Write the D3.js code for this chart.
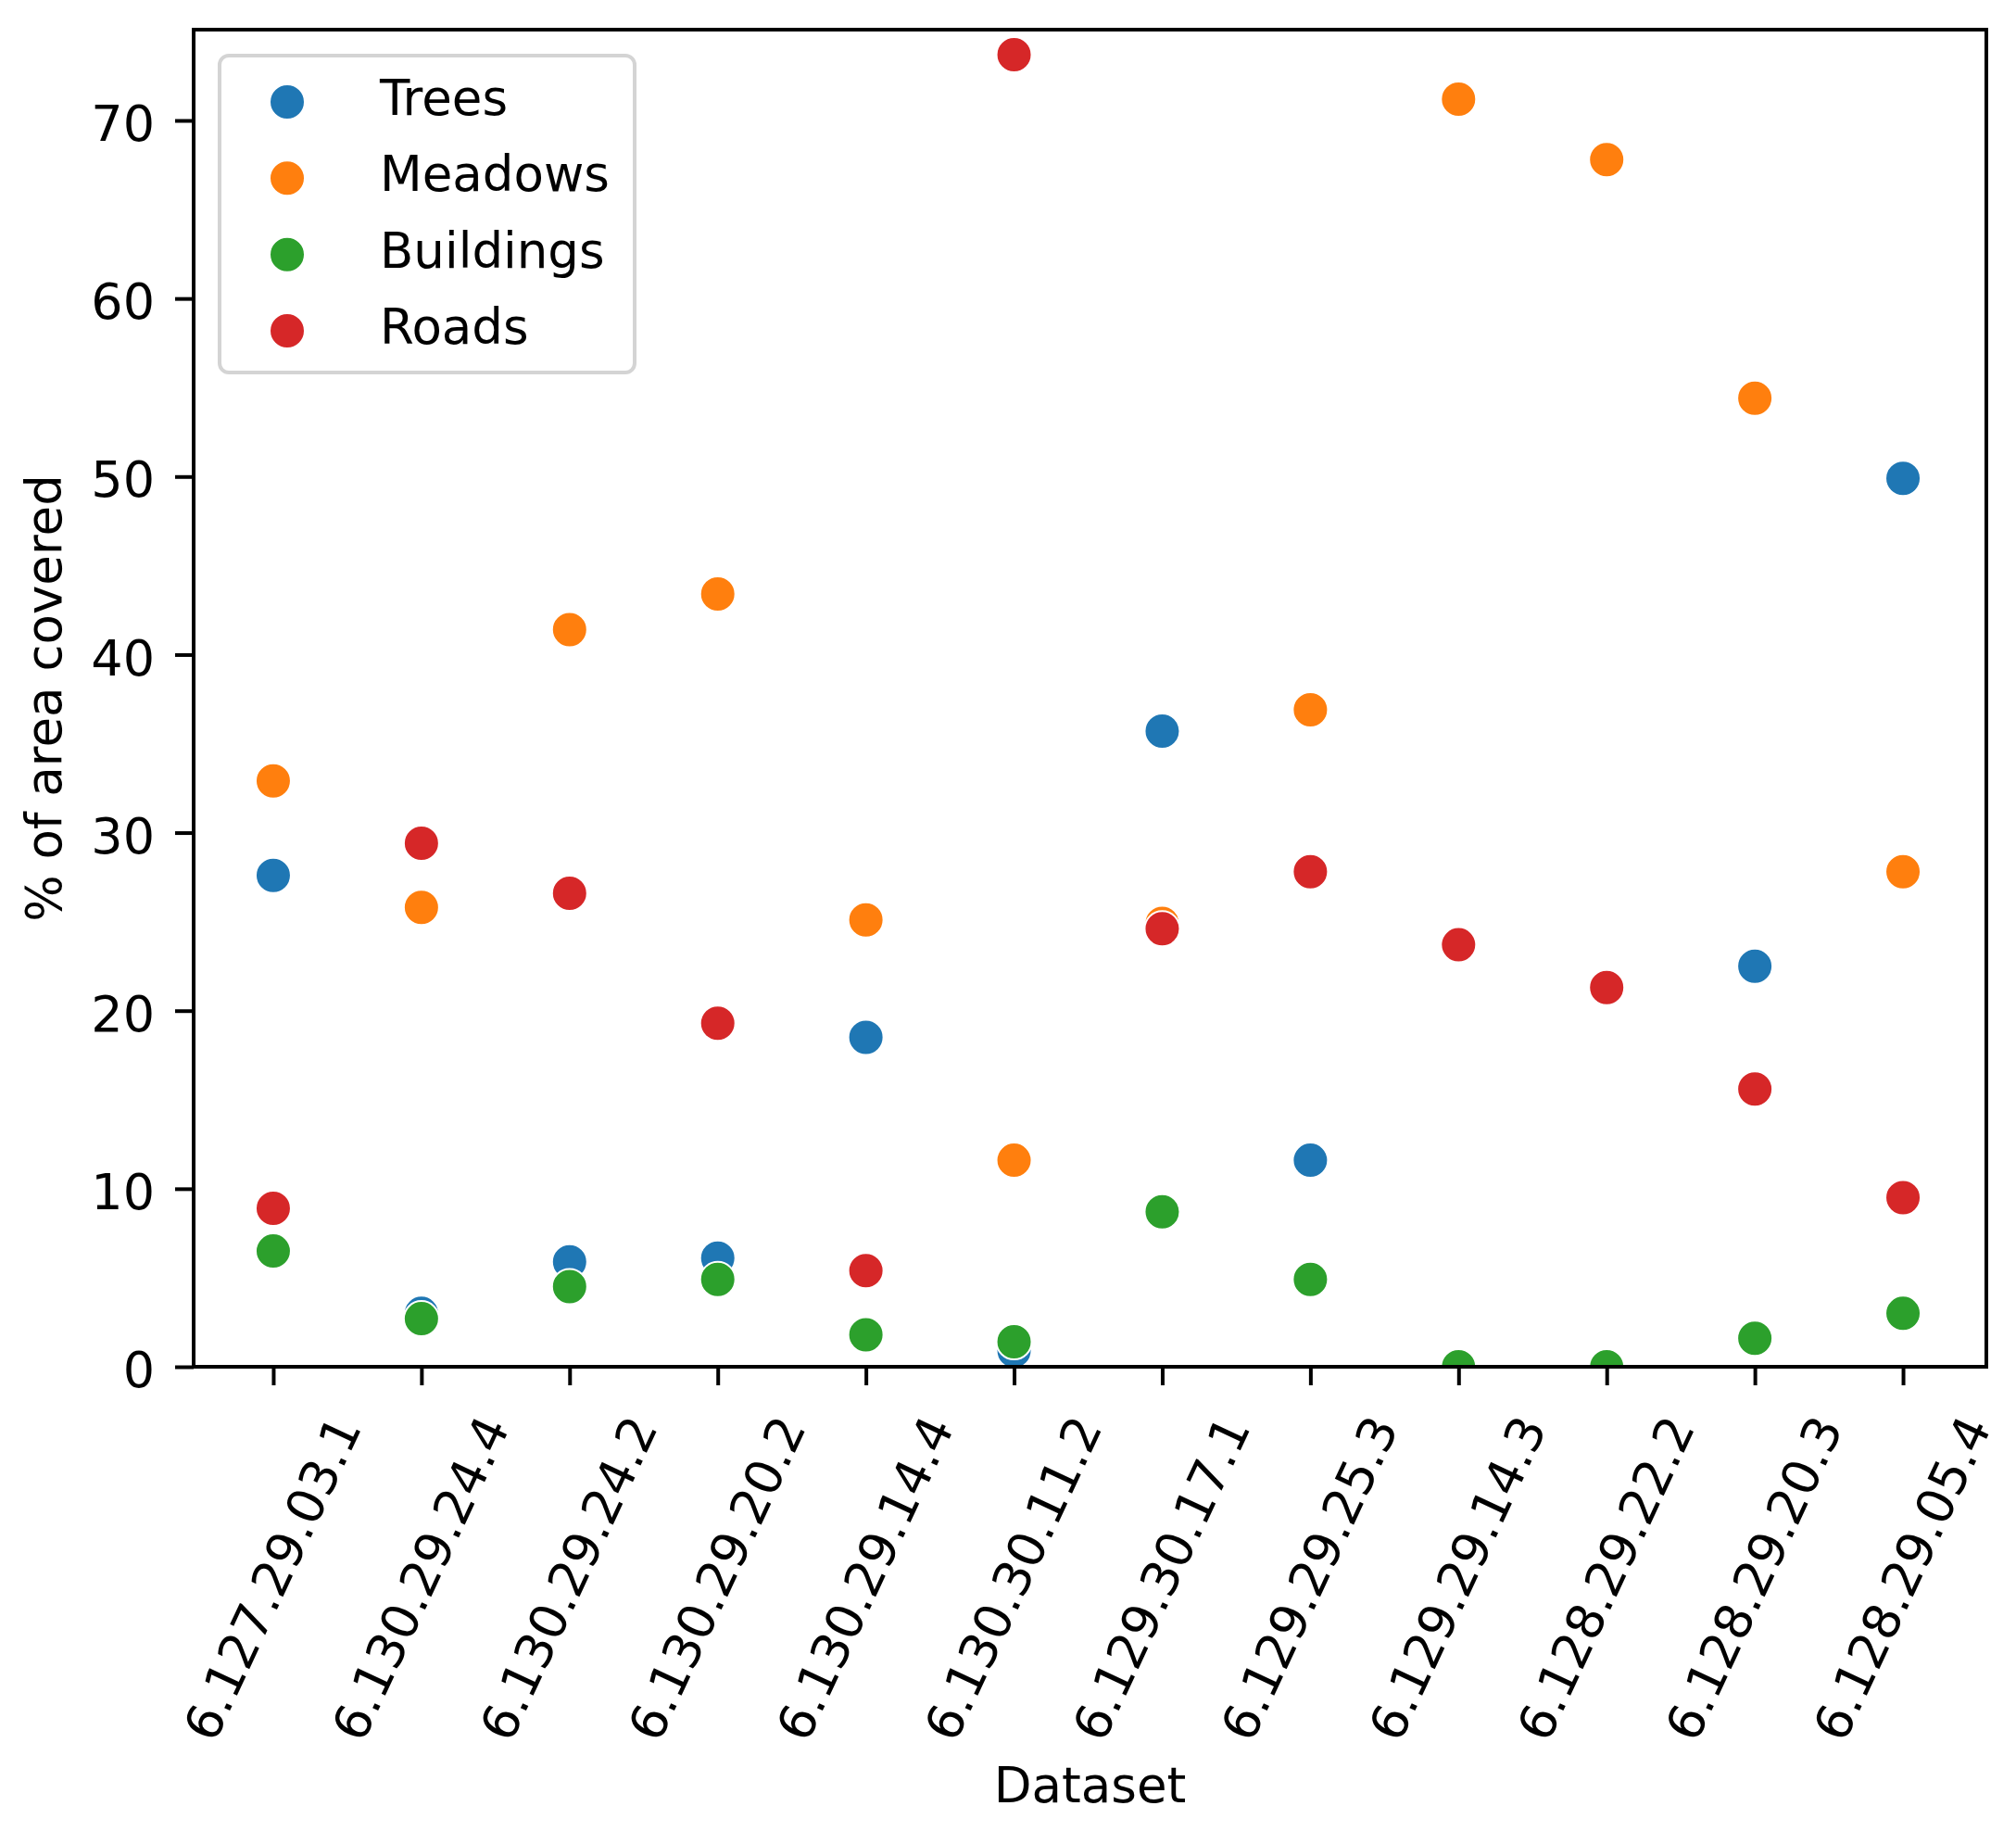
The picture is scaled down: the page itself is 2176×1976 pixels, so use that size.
<!DOCTYPE html>
<html>
<head>
<meta charset="utf-8">
<script src="https://cdn.jsdelivr.net/npm/d3@7"></script>
<style>
  body { margin: 0; background: #fff; }
  text { font-family: "DejaVu Sans", sans-serif; fill: #000; }
</style>
</head>
<body>
<div id="chart"></div>
<script>
// Data
const datasets = [
  "6.127.29.03.1", "6.130.29.24.4", "6.130.29.24.2", "6.130.29.20.2",
  "6.130.29.14.4", "6.130.30.11.2", "6.129.30.17.1", "6.129.29.25.3",
  "6.129.29.14.3", "6.128.29.22.2", "6.128.29.20.3", "6.128.29.05.4"
];
const trees     = [27.6, 3.0, 5.9, 6.1, 18.5, 0.9, 35.7, 11.6, 0.0, 0.0, 22.5, 49.9];
const meadows   = [32.9, 25.8, 41.4, 43.4, 25.1, 11.6, 24.9, 36.9, 71.2, 67.8, 54.4, 27.8];
const buildings = [6.5, 2.7, 4.5, 4.9, 1.8, 1.4, 8.7, 4.9, 0.0, 0.0, 1.6, 3.0];
const roads     = [8.9, 29.4, 26.6, 19.3, 5.4, 73.7, 24.6, 27.8, 23.7, 21.3, 15.6, 9.5];
const seriesNames = ["Trees", "Meadows", "Buildings", "Roads"];
const yTicks = [0, 10, 20, 30, 40, 50, 60, 70];

const series = [trees, meadows, buildings, roads];
const colors = ["#1f77b4", "#ff7f0e", "#2ca02c", "#d62728"];

// Layout
const svgWidth = 2176, svgHeight = 1976;
const plotLeft = 209, plotRight = 2144, plotTop = 32, plotBottom = 1475;
const fontSize = 53;
const tickFontSize = 54;
const tickLen = 20;
const rotation = 65;

const svg = d3.select("#chart").append("svg")
  .attr("width", svgWidth)
  .attr("height", svgHeight)
  .style("font-family", "DejaVu Sans");

// categorical x: points sit 0.55 steps in from each edge
const x = d3.scalePoint()
  .domain(datasets)
  .range([plotLeft - 2, plotRight - 2])
  .padding(0.55);

const y = d3.scaleLinear()
  .domain([0, 75.1])
  .range([plotBottom, plotTop]);

// clip marks to the axes area, like matplotlib
svg.append("clipPath").attr("id", "plot-clip")
  .append("rect")
  .attr("x", plotLeft).attr("y", plotTop)
  .attr("width", plotRight - plotLeft).attr("height", plotBottom - plotTop);

const marks = svg.append("g").attr("clip-path", "url(#plot-clip)");

series.forEach((vals, si) => {
  marks.append("g")
    .selectAll("circle")
    .data(vals.map((v, i) => ({ name: datasets[i], value: v })))
    .join("circle")
    .attr("cx", d => x(d.name))
    .attr("cy", d => y(d.value))
    .attr("r", 19)
    .attr("fill", colors[si])
    .attr("stroke", "#fff")
    .attr("stroke-width", 2);
});

// Frame
svg.append("rect")
  .attr("x", plotLeft).attr("y", plotTop)
  .attr("width", plotRight - plotLeft).attr("height", plotBottom - plotTop)
  .attr("fill", "none")
  .attr("stroke", "#000")
  .attr("stroke-width", 4);

// Y axis
const yAxis = svg.append("g")
  .attr("transform", `translate(${plotLeft},0)`)
  .call(d3.axisLeft(y).tickValues(yTicks).tickSize(tickLen).tickPadding(22));
yAxis.select(".domain").remove();
yAxis.selectAll(".tick line").attr("stroke", "#000").attr("stroke-width", 4);
yAxis.selectAll(".tick text")
  .attr("font-size", tickFontSize)
  .attr("font-family", "DejaVu Sans")
  .attr("fill", "#000")
  .attr("dy", "0.4em");

// X axis
const xAxis = svg.append("g")
  .attr("transform", `translate(0,${plotBottom})`)
  .call(d3.axisBottom(x).tickSize(tickLen).tickFormat(""));
xAxis.select(".domain").remove();
xAxis.selectAll(".tick line").attr("stroke", "#000").attr("stroke-width", 4);

// rotated x tick labels, anchored at the end of the baseline
svg.append("g")
  .selectAll("text")
  .data(datasets)
  .join("text")
  .attr("transform", d => `translate(${x(d) + 96},1540) rotate(${-rotation})`)
  .attr("text-anchor", "end")
  .attr("font-size", tickFontSize)
  .text(d => d);

// Axis titles
svg.append("text")
  .attr("x", (plotLeft + plotRight) / 2)
  .attr("y", 1945)
  .attr("text-anchor", "middle")
  .attr("font-size", fontSize)
  .text("Dataset");

svg.append("text")
  .attr("transform", `translate(66,${(plotTop + plotBottom) / 2}) rotate(-90)`)
  .attr("text-anchor", "middle")
  .attr("font-size", fontSize)
  .text("% of area covered");

// Legend
const legend = svg.append("g");
legend.append("rect")
  .attr("x", 237).attr("y", 60)
  .attr("width", 448).attr("height", 342)
  .attr("rx", 10).attr("ry", 10)
  .attr("fill", "rgba(255,255,255,0.8)")
  .attr("stroke", "#d4d4d4")
  .attr("stroke-width", 4);

const legendY = d3.scalePoint()
  .domain(seriesNames)
  .range([110, 357]);

const items = legend.selectAll("g.item")
  .data(seriesNames)
  .join("g")
  .attr("class", "item")
  .attr("transform", d => `translate(0,${legendY(d)})`);

items.append("circle")
  .attr("cx", 310)
  .attr("r", 19)
  .attr("fill", (d, i) => colors[i])
  .attr("stroke", "#fff")
  .attr("stroke-width", 2);

items.append("text")
  .attr("x", 410)
  .attr("y", 14)
  .attr("font-size", fontSize)
  .text(d => d);
</script>
</body>
</html>
